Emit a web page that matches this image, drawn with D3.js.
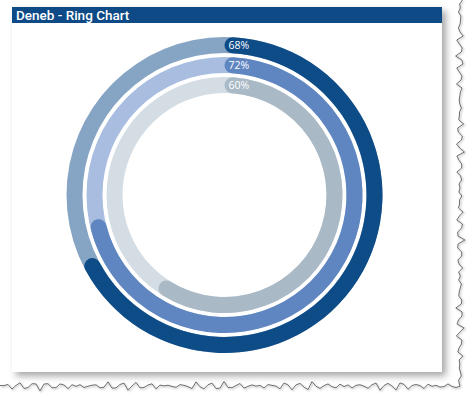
<!DOCTYPE html>
<html>
<head>
<meta charset="utf-8">
<script src="https://cdn.jsdelivr.net/npm/d3@7"></script>
<style>
  html, body { margin: 0; padding: 0; background: #fff; }
  svg { display: block; }
</style>
</head>
<body>
<svg id="chart" width="474" height="397"></svg>
<script>
/* DATA */
const title = "Deneb - Ring Chart";
const rings = ["Outer", "Middle", "Inner"];
const values = [0.68, 0.72, 0.60];

const width = 474, height = 397;
const panel = { x: 12, y: 7, w: 430, h: 365 };

const svg = d3.select("#chart");
const defs = svg.append("defs");

// drop shadow for the panel
const shadow = defs.append("filter").attr("id", "shadow")
    .attr("x", "-10%").attr("y", "-10%").attr("width", "130%").attr("height", "130%");
shadow.append("feDropShadow")
    .attr("dx", 4).attr("dy", 4).attr("stdDeviation", 3.5)
    .attr("flood-color", "#000").attr("flood-opacity", 0.35);

const edgeShadow = defs.append("filter").attr("id", "edgeShadow");
edgeShadow.append("feDropShadow")
    .attr("dx", 1).attr("dy", 1).attr("stdDeviation", 0.8)
    .attr("flood-color", "#000").attr("flood-opacity", 0.35);

// torn paper edge (decoration only)
function jag(i) {
  return 2.2 * Math.sin(i * 1.7) + 1.6 * Math.sin(i * 4.3 + 1) + 1.2 * Math.sin(i * 9.1 + 2);
}
const edgePts = [];
for (let y = 0; y <= 384; y += 4) edgePts.push([460 + jag(y / 4), y]);
for (let x = 460; x >= 0; x -= 4) edgePts.push([x, 386 + jag(x / 4 + 50)]);

svg.append("path")
    .attr("d", d3.line()(edgePts))
    .attr("fill", "none")
    .attr("stroke", "#6d6d6d")
    .attr("stroke-width", 1)
    .attr("filter", "url(#edgeShadow)");

// panel
svg.append("rect")
    .attr("x", panel.x).attr("y", panel.y)
    .attr("width", panel.w).attr("height", panel.h)
    .attr("fill", "#fff")
    .attr("filter", "url(#shadow)");

// title bar
svg.append("rect")
    .attr("x", panel.x).attr("y", panel.y)
    .attr("width", panel.w).attr("height", 16)
    .attr("fill", "#0d4a86");

svg.append("text")
    .attr("x", panel.x + 4).attr("y", panel.y + 13)
    .attr("fill", "#fff")
    .attr("font-family", "Roboto, 'DejaVu Sans', sans-serif")
    .attr("font-weight", 500)
    .attr("font-size", 13.5)
    .text(title);

/* RING SCALES */
const cx = 224.5, cy = 195;

const radius = d3.scaleBand()
    .domain(rings)
    .range([158, 102])
    .paddingInner(0.2);

const angle = d3.scaleLinear().domain([0, 1]).range([0, 2 * Math.PI]);

const trackColor = d3.scaleOrdinal().domain(rings).range(["#86a4c3", "#a8bde0", "#d4dde4"]);
const valueColor = d3.scaleOrdinal().domain(rings).range(["#0e4c88", "#5f86c0", "#a9b9c5"]);

const data = rings.map((r, i) => ({ ring: r, value: values[i] }));

const arc = d3.arc()
    .innerRadius(d => radius(d.ring))
    .outerRadius(d => radius(d.ring) + radius.bandwidth())
    .cornerRadius(radius.bandwidth() / 2);

const g = svg.append("g").attr("transform", `translate(${cx},${cy})`);

// background tracks
g.selectAll("path.track")
  .data(data)
  .join("path")
    .attr("class", "track")
    .attr("d", d => d3.arc()
        .innerRadius(radius(d.ring))
        .outerRadius(radius(d.ring) + radius.bandwidth())
        .startAngle(0).endAngle(2 * Math.PI)())
    .attr("fill", d => trackColor(d.ring));

// value arcs
g.selectAll("path.value")
  .data(data)
  .join("path")
    .attr("class", "value")
    .attr("d", d => arc({ ring: d.ring, startAngle: angle(0), endAngle: angle(d.value) }))
    .attr("fill", d => valueColor(d.ring));

// labels
g.selectAll("text.label")
  .data(data)
  .join("text")
    .attr("class", "label")
    .attr("x", 4)
    .attr("y", d => -(radius(d.ring) + radius.bandwidth() / 2))
    .attr("dy", "0.36em")
    .attr("fill", "#fff")
    .attr("font-family", "'Open Sans', sans-serif")
    .attr("font-size", 10.5)
    .text(d => d3.format(".0%")(d.value));
</script>
</body>
</html>
